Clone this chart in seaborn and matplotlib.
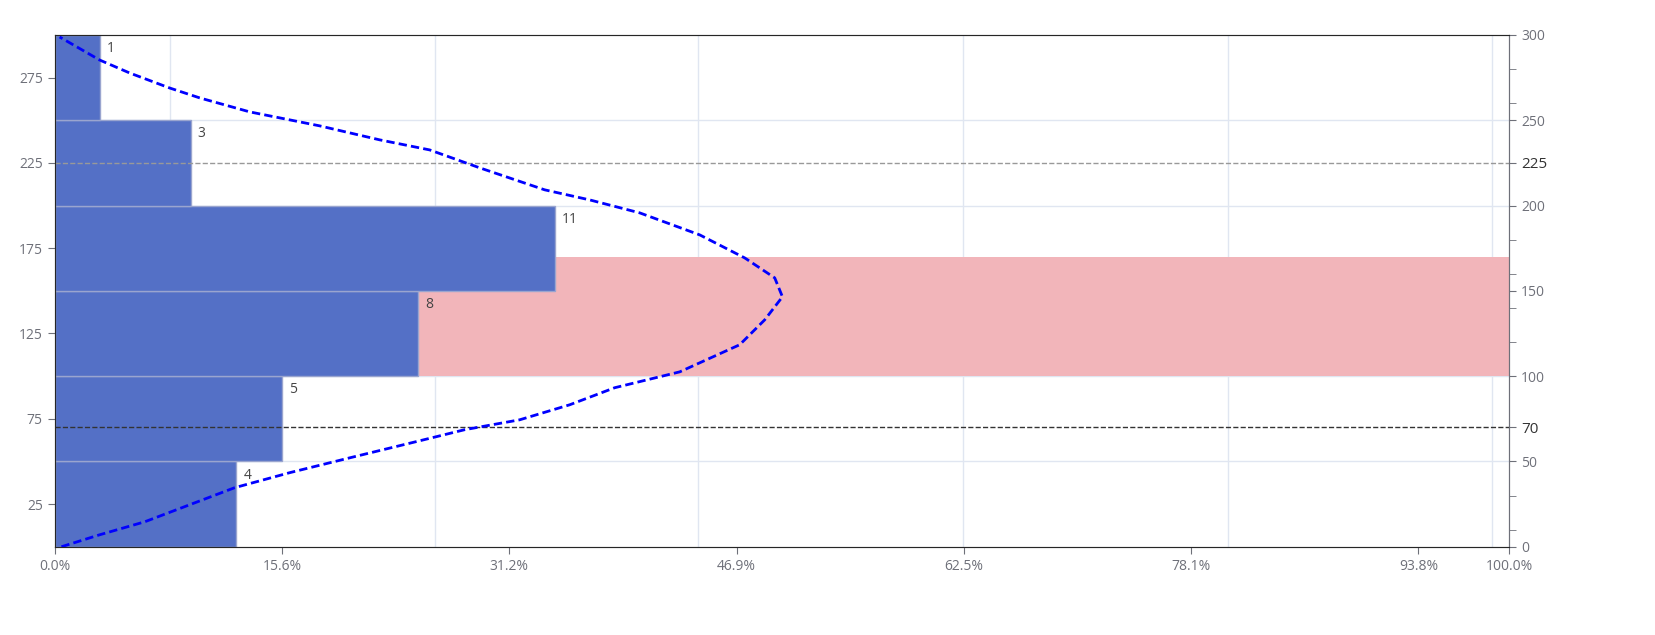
import numpy as np
import pandas as pd
import matplotlib
matplotlib.use("Agg")
import matplotlib.pyplot as plt
import seaborn as sns
from matplotlib.ticker import FixedLocator

# histogram bins (centres) and counts
bin_centres = [25, 75, 125, 175, 225, 275]
counts = [4, 5, 8, 11, 3, 1]
total = 32

# dashed curve (count units, value)
curve_x = [0.15, 0.99, 1.98, 2.97, 3.96, 5.17, 6.49, 8.03, 9.02, 10.23, 11.33, 12.32,
           13.75, 15.07, 15.62, 16.01, 15.84, 15.18, 14.19, 12.87, 11.77, 10.78, 9.35,
           8.25, 7.15, 5.83, 4.29, 3.19, 2.53, 1.65, 0.99, 0.11]
curve_y = [0, 7.0, 14.6, 24.6, 34.6, 43.4, 52.1, 62.1, 68.6, 74.4, 83.2, 93.2, 102.5,
           118.4, 133, 146.5, 157.6, 169.3, 182.8, 195.7, 203.3, 209.2, 222.1, 232.6,
           238.5, 246.7, 254.9, 263.1, 268.9, 277.7, 285.3, 298.8]

# highlighted region
hl_x = [8, 32]
hl_y = [100, 170]

mark_lines = [225, 70]
grid_x = [2.53, 8.36, 14.15, 19.98, 25.81, 31.61]
x_ticks = [0, 5, 10, 15, 20, 25, 30, 32]

sns.set_style("white")
plt.rcParams['font.family'] = ['Open Sans', 'DejaVu Sans']

fig = plt.figure(figsize=(16.55, 6.35), dpi=100)
ax = fig.add_axes([0.033, 0.139, 0.879, 0.806])

for gx in grid_x:
    ax.axvline(gx, color="#e0e6f1", lw=1, zorder=0)
for gy in [50, 100, 150, 200, 250]:
    ax.axhline(gy, color="#e0e6f1", lw=1, zorder=0)

ax.fill_between(hl_x, hl_y[0], hl_y[1], color="#f2b5ba", lw=0, zorder=1)

df = pd.DataFrame({"value": bin_centres, "count": counts})
sns.histplot(data=df, y="value", weights="count", binwidth=50, binrange=(0, 300),
             color="#5470c6", alpha=1, edgecolor="#9aa5cf", linewidth=1, ax=ax, zorder=2)

for c, v in zip(counts, bin_centres):
    ax.text(c + 0.15, v + 17, str(c), fontsize=10, color="#444", va="center", zorder=5)

sns.lineplot(x=curve_x, y=curve_y, sort=False, estimator=None, color="#0000ff",
             lw=2, linestyle=(0, (3, 1.5)), ax=ax, zorder=4)

ax.axhline(mark_lines[0], color="#999", lw=1, ls="--", zorder=3)
ax.axhline(mark_lines[1], color="#333", lw=1, ls="--", zorder=3)

ax.set_xlim(0, 32)
ax.set_ylim(0, 300)
ax.set_xticks(x_ticks)
ax.set_xticklabels([f"{t / total * 100:.1f}%" for t in x_ticks])
ax.set_yticks([25, 75, 125, 175, 225, 275])
ax.set_xlabel("")
ax.set_ylabel("")
ax.tick_params(colors="#6e7079", labelsize=10, length=5, direction="out")
ax.tick_params(axis="x", bottom=True)
ax.tick_params(axis="y", left=True)
for s in ["left", "bottom", "top", "right"]:
    ax.spines[s].set_color("#6e7079")
    ax.spines[s].set_visible(True)

ax2 = ax.twinx()
ax2.set_ylim(0, 300)
r_ticks = [0, 50, 70, 100, 150, 200, 225, 250, 300]
ax2.set_yticks(r_ticks)
ax2.set_yticklabels([str(t) for t in r_ticks])
ax2.yaxis.set_minor_locator(FixedLocator([10, 30, 120, 140, 160, 180, 260, 280]))
ax2.tick_params(colors="#6e7079", labelsize=10, length=5)
ax2.tick_params(which="minor", length=5, colors="#6e7079")
for lbl in ax2.get_yticklabels():
    if lbl.get_text() in ("70", "225"):
        lbl.set_color("#333")
        lbl.set_fontsize(11)
ax2.spines["right"].set_color("#6e7079")
ax2.spines["right"].set_visible(True)
ax2.grid(False)

fig.savefig("out.png", dpi=100)
